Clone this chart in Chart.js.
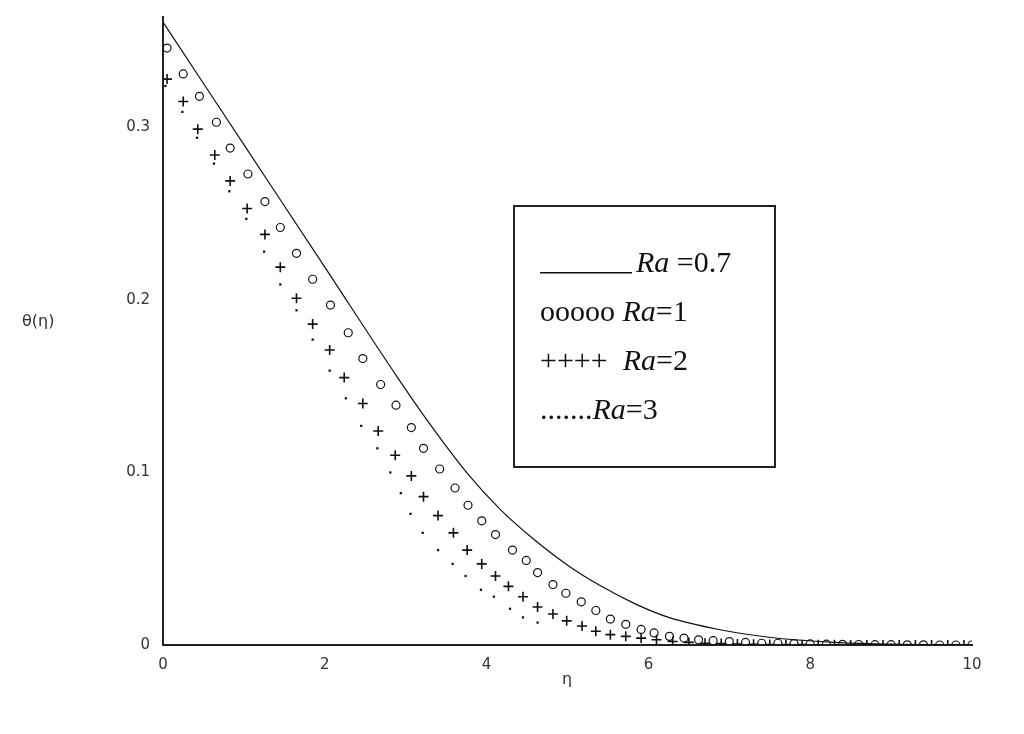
<!DOCTYPE html>
<html>
<head>
<meta charset="utf-8">
<script src="https://cdn.jsdelivr.net/npm/chart.js@4"></script>
<style>
  html, body { margin: 0; padding: 0; background: #fff; }
  #wrap { width: 1024px; height: 734px; }
</style>
</head>
<body>
<div id="wrap"><canvas id="myChart"></canvas></div>
<script>
// values
const etaLine = [0, 1, 2, 2.9, 3.3, 3.77, 4.18, 4.59, 5.01, 5.42, 5.83, 6.25, 6.87, 7.49, 8.3, 9, 10];
const thetaLine = [0.361, 0.290, 0.219, 0.155, 0.128, 0.099, 0.078, 0.061, 0.046, 0.034, 0.024, 0.016, 0.009, 0.0045, 0.0015, 0.0005, 0];

const etaRa1 = [0.05, 0.25, 0.45, 0.66, 0.83, 1.05, 1.26, 1.45, 1.65, 1.85, 2.07, 2.29, 2.47, 2.69, 2.88, 3.07, 3.22, 3.42, 3.61, 3.77, 3.94, 4.11, 4.32, 4.49, 4.63, 4.82, 4.98, 5.17, 5.35, 5.53, 5.72, 5.91, 6.07, 6.26, 6.44, 6.62, 6.8, 7.0, 7.2, 7.4, 7.6, 7.8, 8.0, 8.2, 8.4, 8.6, 8.8, 9.0, 9.2, 9.4, 9.6, 9.8, 10.0];
const thetaRa1 = [0.346, 0.331, 0.318, 0.303, 0.288, 0.273, 0.257, 0.242, 0.227, 0.212, 0.197, 0.181, 0.166, 0.151, 0.139, 0.126, 0.114, 0.102, 0.091, 0.081, 0.072, 0.064, 0.055, 0.049, 0.042, 0.035, 0.030, 0.025, 0.020, 0.015, 0.012, 0.009, 0.007, 0.005, 0.004, 0.003, 0.0025, 0.002, 0.0015, 0.001, 0.001, 0.0008, 0.0006, 0.0005, 0.0004, 0.0003, 0.0002, 0.0002, 0.0001, 0.0001, 0, 0, 0];

const etaRa2 = [0.05, 0.25, 0.43, 0.64, 0.83, 1.04, 1.26, 1.45, 1.65, 1.85, 2.06, 2.24, 2.47, 2.66, 2.87, 3.07, 3.22, 3.40, 3.59, 3.76, 3.94, 4.11, 4.27, 4.45, 4.63, 4.82, 4.99, 5.18, 5.35, 5.53, 5.72, 5.91, 6.1, 6.3, 6.5, 6.7, 6.9, 7.1, 7.3, 7.5, 7.7, 7.9, 8.1, 8.3, 8.5, 8.7, 8.9, 9.1, 9.3, 9.5, 9.7, 9.9];
const thetaRa2 = [0.328, 0.315, 0.299, 0.284, 0.269, 0.253, 0.238, 0.219, 0.201, 0.186, 0.171, 0.155, 0.140, 0.124, 0.110, 0.098, 0.086, 0.075, 0.065, 0.055, 0.047, 0.040, 0.034, 0.028, 0.022, 0.018, 0.014, 0.011, 0.008, 0.006, 0.005, 0.004, 0.003, 0.002, 0.0015, 0.001, 0.0008, 0.0006, 0.0004, 0.0003, 0.0002, 0.0002, 0.0001, 0.0001, 0, 0, 0, 0, 0, 0, 0, 0];

const etaRa3 = [0.03, 0.24, 0.42, 0.63, 0.82, 1.03, 1.25, 1.45, 1.65, 1.85, 2.06, 2.26, 2.45, 2.65, 2.81, 2.94, 3.06, 3.21, 3.40, 3.58, 3.74, 3.93, 4.09, 4.29, 4.45, 4.63];
const thetaRa3 = [0.324, 0.309, 0.294, 0.279, 0.263, 0.247, 0.228, 0.209, 0.194, 0.177, 0.159, 0.143, 0.127, 0.114, 0.100, 0.088, 0.076, 0.065, 0.055, 0.047, 0.040, 0.032, 0.028, 0.021, 0.016, 0.013];

const yTicks = [0, 0.1, 0.2, 0.3];
const legendLines = [
  ['______ ', 'Ra', ' =0.7'],
  ['ooooo ', 'Ra', '=1'],
  ['++++  ', 'Ra', '=2'],
  ['.......', 'Ra', '=3']
];

function pts(xs, ys) { return xs.map((x, i) => ({ x: x, y: ys[i] })); }

const legendBox = {
  id: 'legendBox',
  afterDraw(chart) {
    const c = chart.ctx;
    c.save();
    c.strokeStyle = '#222';
    c.lineWidth = 2;
    c.strokeRect(514, 206, 261, 261);
    c.fillStyle = '#111';
    c.textBaseline = 'alphabetic';
    legendLines.forEach((l, i) => {
      let x = 540, y = 272 + i * 49;
      c.font = '30px "Liberation Serif"';
      const w0 = i === 0 ? 96 : c.measureText(l[0]).width;
      if (i === 0) {
        c.fillRect(x, y, 92, 1.5);
      } else {
        c.fillText(l[0], x, y);
      }
      x += w0;
      c.font = 'italic 30px "Liberation Serif"';
      c.fillText(l[1], x, y); x += c.measureText(l[1]).width;
      c.font = '30px "Liberation Serif"';
      c.fillText(l[2], x, y);
    });
    c.font = '16px "DejaVu Sans"';
    c.fillStyle = '#333';
    c.fillText('θ(η)', 22, 326);
    c.fillText('η', 562, 684);
    c.restore();
  }
};

new Chart(document.getElementById('myChart'), {
  type: 'scatter',
  data: {
    datasets: [
      { label: 'Ra=0.7', data: pts(etaLine, thetaLine), showLine: true, borderColor: '#111', borderWidth: 1.2, pointRadius: 0, cubicInterpolationMode: 'monotone' },
      { label: 'Ra=1', data: pts(etaRa1, thetaRa1), pointStyle: 'circle', pointRadius: 4, borderColor: '#111', borderWidth: 1.2, backgroundColor: 'rgba(0,0,0,0)' },
      { label: 'Ra=2', data: pts(etaRa2, thetaRa2), pointStyle: 'cross', pointRadius: 5, borderColor: '#111', borderWidth: 1.6 },
      { label: 'Ra=3', data: pts(etaRa3, thetaRa3), pointStyle: 'rect', pointRadius: 1.6, borderColor: '#111', backgroundColor: '#111', borderWidth: 0 }
    ]
  },
  options: {
    responsive: true,
    maintainAspectRatio: false,
    animation: false,
    layout: { padding: { top: 14, right: 52, left: 0, bottom: 0 } },
    plugins: { legend: { display: false }, tooltip: { enabled: false } },
    scales: {
      x: {
        type: 'linear', min: 0, max: 10,
        ticks: { stepSize: 2, color: '#333', font: { family: 'DejaVu Sans', size: 15 }, padding: 6 },
        grid: { display: false, drawTicks: true, tickLength: 5, tickColor: '#222' },
        border: { color: '#222', width: 2 },
        afterFit(s) { s.height = 89; }
      },
      y: {
        min: 0, max: 0.364,
        afterBuildTicks(s) { s.ticks = yTicks.map(v => ({ value: v })); },
        ticks: { color: '#333', font: { family: 'DejaVu Sans', size: 15 }, padding: 8 },
        grid: { display: false, drawTicks: true, tickLength: 5, tickColor: '#222' },
        border: { color: '#222', width: 2 },
        afterFit(s) { s.width = 163; }
      }
    }
  },
  plugins: [legendBox]
});
</script>
</body>
</html>
